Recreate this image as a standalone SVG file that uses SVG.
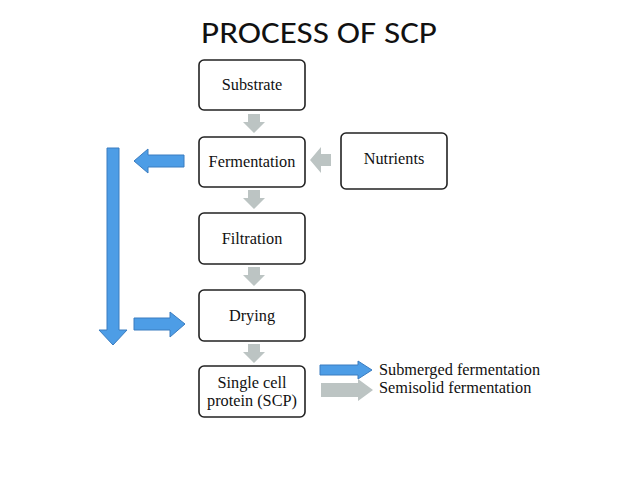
<svg xmlns="http://www.w3.org/2000/svg" width="638" height="478" viewBox="0 0 638 478">
<style>
.box{fill:#fff;stroke:#222;stroke-width:1.6}
.t{font-family:"Liberation Serif",serif;font-size:16.3px;fill:#111;text-anchor:middle}
.lt{font-family:"Liberation Serif",serif;font-size:16.3px;fill:#111}
.g{fill:#bcc4c3}
.b{fill:#4d9de6;stroke:#3a7cc0;stroke-width:1}
</style>
<rect width="638" height="478" fill="#fff"/>
<text x="319" y="43" font-family="Calibri,'Liberation Sans',sans-serif" font-size="30" text-anchor="middle" fill="#111" textLength="236" lengthAdjust="spacingAndGlyphs">PROCESS OF SCP</text>
<g id="substrate"><rect class="box" x="199" y="60" width="106" height="50" rx="5"/><text class="t" x="252" y="90">Substrate</text></g>
<g id="fermentation"><rect class="box" x="199" y="137" width="106" height="50" rx="5"/><text class="t" x="252" y="167">Fermentation</text></g>
<g id="nutrients"><rect class="box" x="341" y="133" width="106" height="56" rx="5"/><text class="t" x="394" y="164">Nutrients</text></g>
<g id="filtration"><rect class="box" x="199" y="213" width="106" height="51" rx="5"/><text class="t" x="252" y="244">Filtration</text></g>
<g id="drying"><rect class="box" x="199" y="290" width="106" height="51" rx="5"/><text class="t" x="252" y="321">Drying</text></g>
<g id="scp"><rect class="box" x="199" y="366" width="106" height="51" rx="5"/><text class="t" x="252" y="388">Single cell</text><text class="t" x="252" y="406">protein (SCP)</text></g>
<g id="connectors">
<polygon class="g" points="248,114 260,114 260,122 265,122 254,133 243,122 248,122"/>
<polygon class="g" points="248,190 260,190 260,198 265,198 254,209 243,198 248,198"/>
<polygon class="g" points="248,267 260,267 260,275 265,275 254,286 243,275 248,275"/>
<polygon class="g" points="248,344 260,344 260,352 265,352 254,363 243,352 248,352"/>
<polygon class="g" points="331,154 321,154 321,147 310,160 321,173 321,166 331,166"/>
<polygon class="b" points="184,155 148,155 148,149 134,161 148,173 148,167 184,167"/>
<polygon class="b" points="107,148 119,148 119,330 127,330 113,345 99,330 107,330"/>
<polygon class="b" points="134,318 170,318 170,312 185,324 170,337 170,330 134,330"/>
<polygon class="b" points="320,365 358,365 358,361 372,370 358,379 358,375 320,375"/>
<polygon class="g" points="321,383 358,383 358,379 373,390 358,401 358,397 321,397"/>
</g>
<text class="lt" x="379" y="375">Submerged fermentation</text>
<text class="lt" x="379" y="393">Semisolid fermentation</text>
</svg>
